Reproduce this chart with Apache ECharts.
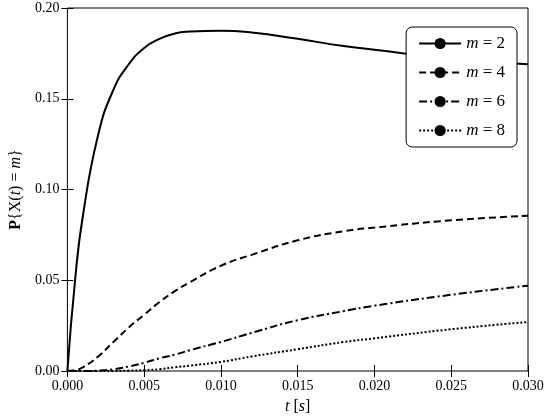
<!DOCTYPE html>
<html>
<head>
<meta charset="UTF-8">
<script src="https://cdn.jsdelivr.net/npm/echarts@6/dist/echarts.min.js"></script>
</head>
<body style="margin:0">
<div id="main" style="width:550px;height:420px;"></div>
<script>
    // sample times and read-off curve values
    let t = [0, 0.0005, 0.001, 0.002, 0.003, 0.004, 0.005, 0.006, 0.007, 0.008, 0.010, 0.012, 0.015, 0.018, 0.020, 0.025, 0.030];
    let m2 = [0, 0.050, 0.085, 0.130, 0.155, 0.169, 0.178, 0.183, 0.186, 0.187, 0.1875, 0.1865, 0.183, 0.179, 0.177, 0.172, 0.169];
    let m4 = [0, 0.0005, 0.002, 0.008, 0.016, 0.024, 0.031, 0.038, 0.044, 0.049, 0.058, 0.064, 0.072, 0.077, 0.079, 0.083, 0.0855];
    let m6 = [0, 0, 0, 0.0002, 0.001, 0.0025, 0.0045, 0.007, 0.009, 0.0115, 0.016, 0.021, 0.028, 0.033, 0.036, 0.042, 0.047];
    let m8 = [0, 0, 0, 0, 0, 0.0002, 0.0005, 0.001, 0.002, 0.003, 0.005, 0.008, 0.012, 0.016, 0.018, 0.023, 0.027];
    let names = ['m2', 'm4', 'm6', 'm8'];
    let labels = ['2', '4', '6', '8'];
    let dashes = ['solid', [7, 4], [8, 3, 2, 3], [2, 2]];

    let chart = echarts.init(document.getElementById('main'));
    let font = 'Liberation Serif';
    function pairs(ys) { return t.map((x, i) => [x, ys[i]]); }
    let all = [m2, m4, m6, m8];
    let series = all.map((ys, i) => ({
        name: names[i],
        type: 'line',
        smooth: true,
        showSymbol: false,
        symbol: 'none',
        data: pairs(ys),
        lineStyle: { color: '#000', width: 2, type: dashes[i] },
        itemStyle: { color: '#000' }
    }));
    let tickLab = { fontFamily: font, fontSize: 14, color: '#000' };
    let option = {
        animation: false,
        grid: { left: 58, right: 22, top: 8, bottom: 47, show: true, borderColor: '#000', borderWidth: 1 },
        legend: {
            data: names,
            right: 33, top: 27, orient: 'vertical', itemWidth: 42, itemHeight: 14, itemGap: 12,
            backgroundColor: '#fff', borderColor: '#000', borderWidth: 1, borderRadius: 6,
            padding: [8, 12, 8, 12],
            formatter: function (n) { return '{i|m} = ' + labels[names.indexOf(n)]; },
            textStyle: { fontFamily: font, fontSize: 17, color: '#000', rich: { i: { fontStyle: 'italic', fontFamily: font, fontSize: 17 } } }
        },
        xAxis: [{
            type: 'value', min: 0, max: 0.03, interval: 0.005,
            name: '{i|t} [{i|s}]', nameLocation: 'middle', nameGap: 28,
            nameTextStyle: { fontFamily: font, fontSize: 16, color: '#000', rich: { i: { fontStyle: 'italic', fontFamily: font, fontSize: 16 } } },
            axisLine: { show: false }, splitLine: { show: false },
            axisTick: { inside: true, length: 6, lineStyle: { color: '#000' } },
            axisLabel: Object.assign({ formatter: v => v.toFixed(3) }, tickLab)
        }, {
            type: 'value', position: 'top', min: 0, max: 0.03, interval: 0.005,
            axisLine: { show: false }, splitLine: { show: false }, axisLabel: { show: false },
            axisTick: { inside: true, length: 6, lineStyle: { color: '#000' } }
        }],
        yAxis: [{
            type: 'value', min: 0, max: 0.2, interval: 0.05,
            name: '{b|P}{X({i|t}) = {i|m}}', nameLocation: 'middle', nameGap: 42, nameRotate: 90,
            nameTextStyle: { fontFamily: font, fontSize: 16, color: '#000', rich: {
                b: { fontWeight: 'bold', fontFamily: font, fontSize: 16 },
                i: { fontStyle: 'italic', fontFamily: font, fontSize: 16 } } },
            axisLine: { show: false }, splitLine: { show: false },
            axisTick: { inside: true, length: 6, lineStyle: { color: '#000' } },
            axisLabel: Object.assign({ formatter: v => v.toFixed(2) }, tickLab)
        }, {
            type: 'value', position: 'right', min: 0, max: 0.2, interval: 0.05,
            axisLine: { show: false }, splitLine: { show: false }, axisLabel: { show: false },
            axisTick: { inside: true, length: 6, lineStyle: { color: '#000' } }
        }],
        series: series
    };
    chart.setOption(option);
</script>
</body>
</html>
